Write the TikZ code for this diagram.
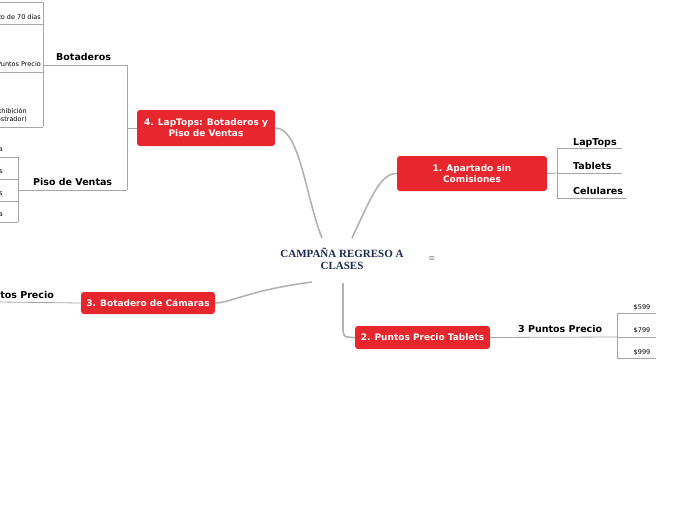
\documentclass[tikz,border=0pt]{standalone}
\usepackage{fontspec}
\setmainfont{DejaVu Sans}
\newfontfamily\ctrfont{Liberation Serif}
\definecolor{nred}{HTML}{E8262E}
\definecolor{navy}{HTML}{1B2A55}
\begin{document}
\begin{tikzpicture}[x=1pt,y=-1pt,
 main/.style={draw=none,fill=nred,text=white,rounded corners=3pt,align=center,font=\bfseries\fontsize{9}{11}\selectfont,inner sep=0pt},
 lbl/.style={font=\bfseries\fontsize{9.5}{11}\selectfont,anchor=base west,inner sep=0pt},
 sm/.style={font=\fontsize{6.5}{8}\selectfont,inner sep=0pt,align=center},
 ln/.style={draw=gray!70,line width=0.8pt},
 conn/.style={draw=gray!60,line width=1.6pt}]
\useasboundingbox (0,0) rectangle (697,520);
\clip (0,0) rectangle (697,520);
\node[font=\ctrfont\bfseries\fontsize{11}{12.5}\selectfont,text=navy,align=center] (c) at (342,259) {CAMPAÑA REGRESO A\\CLASES};
\node[font=\fontsize{8}{9}\selectfont,text=navy] (m) at (432,259) {$\equiv$};
\node[main,minimum width=150pt,minimum height=35pt] (n1) at (472,173.5) {1. Apartado sin\\Comisiones};
\node[main,minimum width=135pt,minimum height=23pt] (n2) at (422.5,337.5) {2. Puntos Precio Tablets};
\node[main,minimum width=134pt,minimum height=22pt] (n3) at (148,303) {3. Botadero de Cámaras};
\node[main,minimum width=138pt,minimum height=36pt] (n4) at (206,128) {4. LapTops: Botaderos y\\Piso de Ventas};
\coordinate (c1) at (352,238); \coordinate (c4) at (322,238);
\coordinate (c2) at (343,283); \coordinate (c3) at (312,282);
\draw[conn] (c1) .. controls (370,200) and (380,173) .. (n1.west);
\draw[conn] (c4) .. controls (305,195) and (300,128) .. (n4.east);
\draw[conn] (c2) -- (343,326) .. controls (343,337) .. (n2.west);
\draw[conn] (c3) .. controls (250,290) and (230,303) .. (n3.east);
\coordinate (j1) at (557,173);
\draw[ln] (n1.east) -- (j1);
\draw[ln] (557,148) -- (557,198);
\draw[ln] (557,148) -- (622,148); \draw[ln] (557,173) -- (622,173); \draw[ln] (557,198) -- (627,198);
\node[lbl] (l1) at (573,145) {LapTops};
\node[lbl] (l2) at (573,169) {Tablets};
\node[lbl] (l3) at (573,194) {Celulares};
\coordinate (j2) at (617,337);
\draw[ln] (n2.east) -- (j2);
\node[lbl] (p3) at (518,332) {3 Puntos Precio};
\draw[ln] (617,313) -- (617,358);
\draw[ln] (617,313) -- (656,313); \draw[ln] (617,337) -- (656,337); \draw[ln] (617,358) -- (656,358);
\node[sm] (s1) at (642,308) {\$599};
\node[sm] (s2) at (642,331) {\$799};
\node[sm] (s3) at (642,353) {\$999};
\coordinate (j3) at (0,302);
\draw[ln] (n3.west) -- (j3);
\node[lbl,anchor=base east] (p3b) at (54,298) {3 Puntos Precio};
\coordinate (j4) at (127,128);
\draw[ln] (n4.west) -- (j4);
\draw[ln] (127,65) -- (127,190);
\draw[ln] (127,65) -- (43,65);
\draw[ln] (127,190) -- (18,190);
\node[lbl] (b) at (56,60) {Botaderos};
\node[lbl] (pv) at (33,185) {Piso de Ventas};
\draw[ln] (43,2) -- (43,127);
\draw[ln] (0,2) -- (43,2); \draw[ln] (0,24) -- (43,24); \draw[ln] (0,72) -- (43,72); \draw[ln] (0,127) -- (43,127);
\node[sm,anchor=east] (t1) at (41,17) {Plazo de 70 días};
\node[sm,anchor=east] (t2) at (41,64) {Puntos Precio};
\node[sm,anchor=east,align=right] (t3) at (27,115) {Exhibición\\(mostrador)};
\draw[ln] (18,157) -- (18,222);
\draw[ln] (0,157) -- (18,157); \draw[ln] (0,179) -- (18,179); \draw[ln] (0,201) -- (18,201); \draw[ln] (0,222) -- (18,222);
\node[sm,anchor=east] (u1) at (3,150) {a};
\node[sm,anchor=east] (u2) at (3,172) {s};
\node[sm,anchor=east] (u3) at (3,194) {s};
\node[sm,anchor=east] (u4) at (3,215) {a};
\end{tikzpicture}
\end{document}
